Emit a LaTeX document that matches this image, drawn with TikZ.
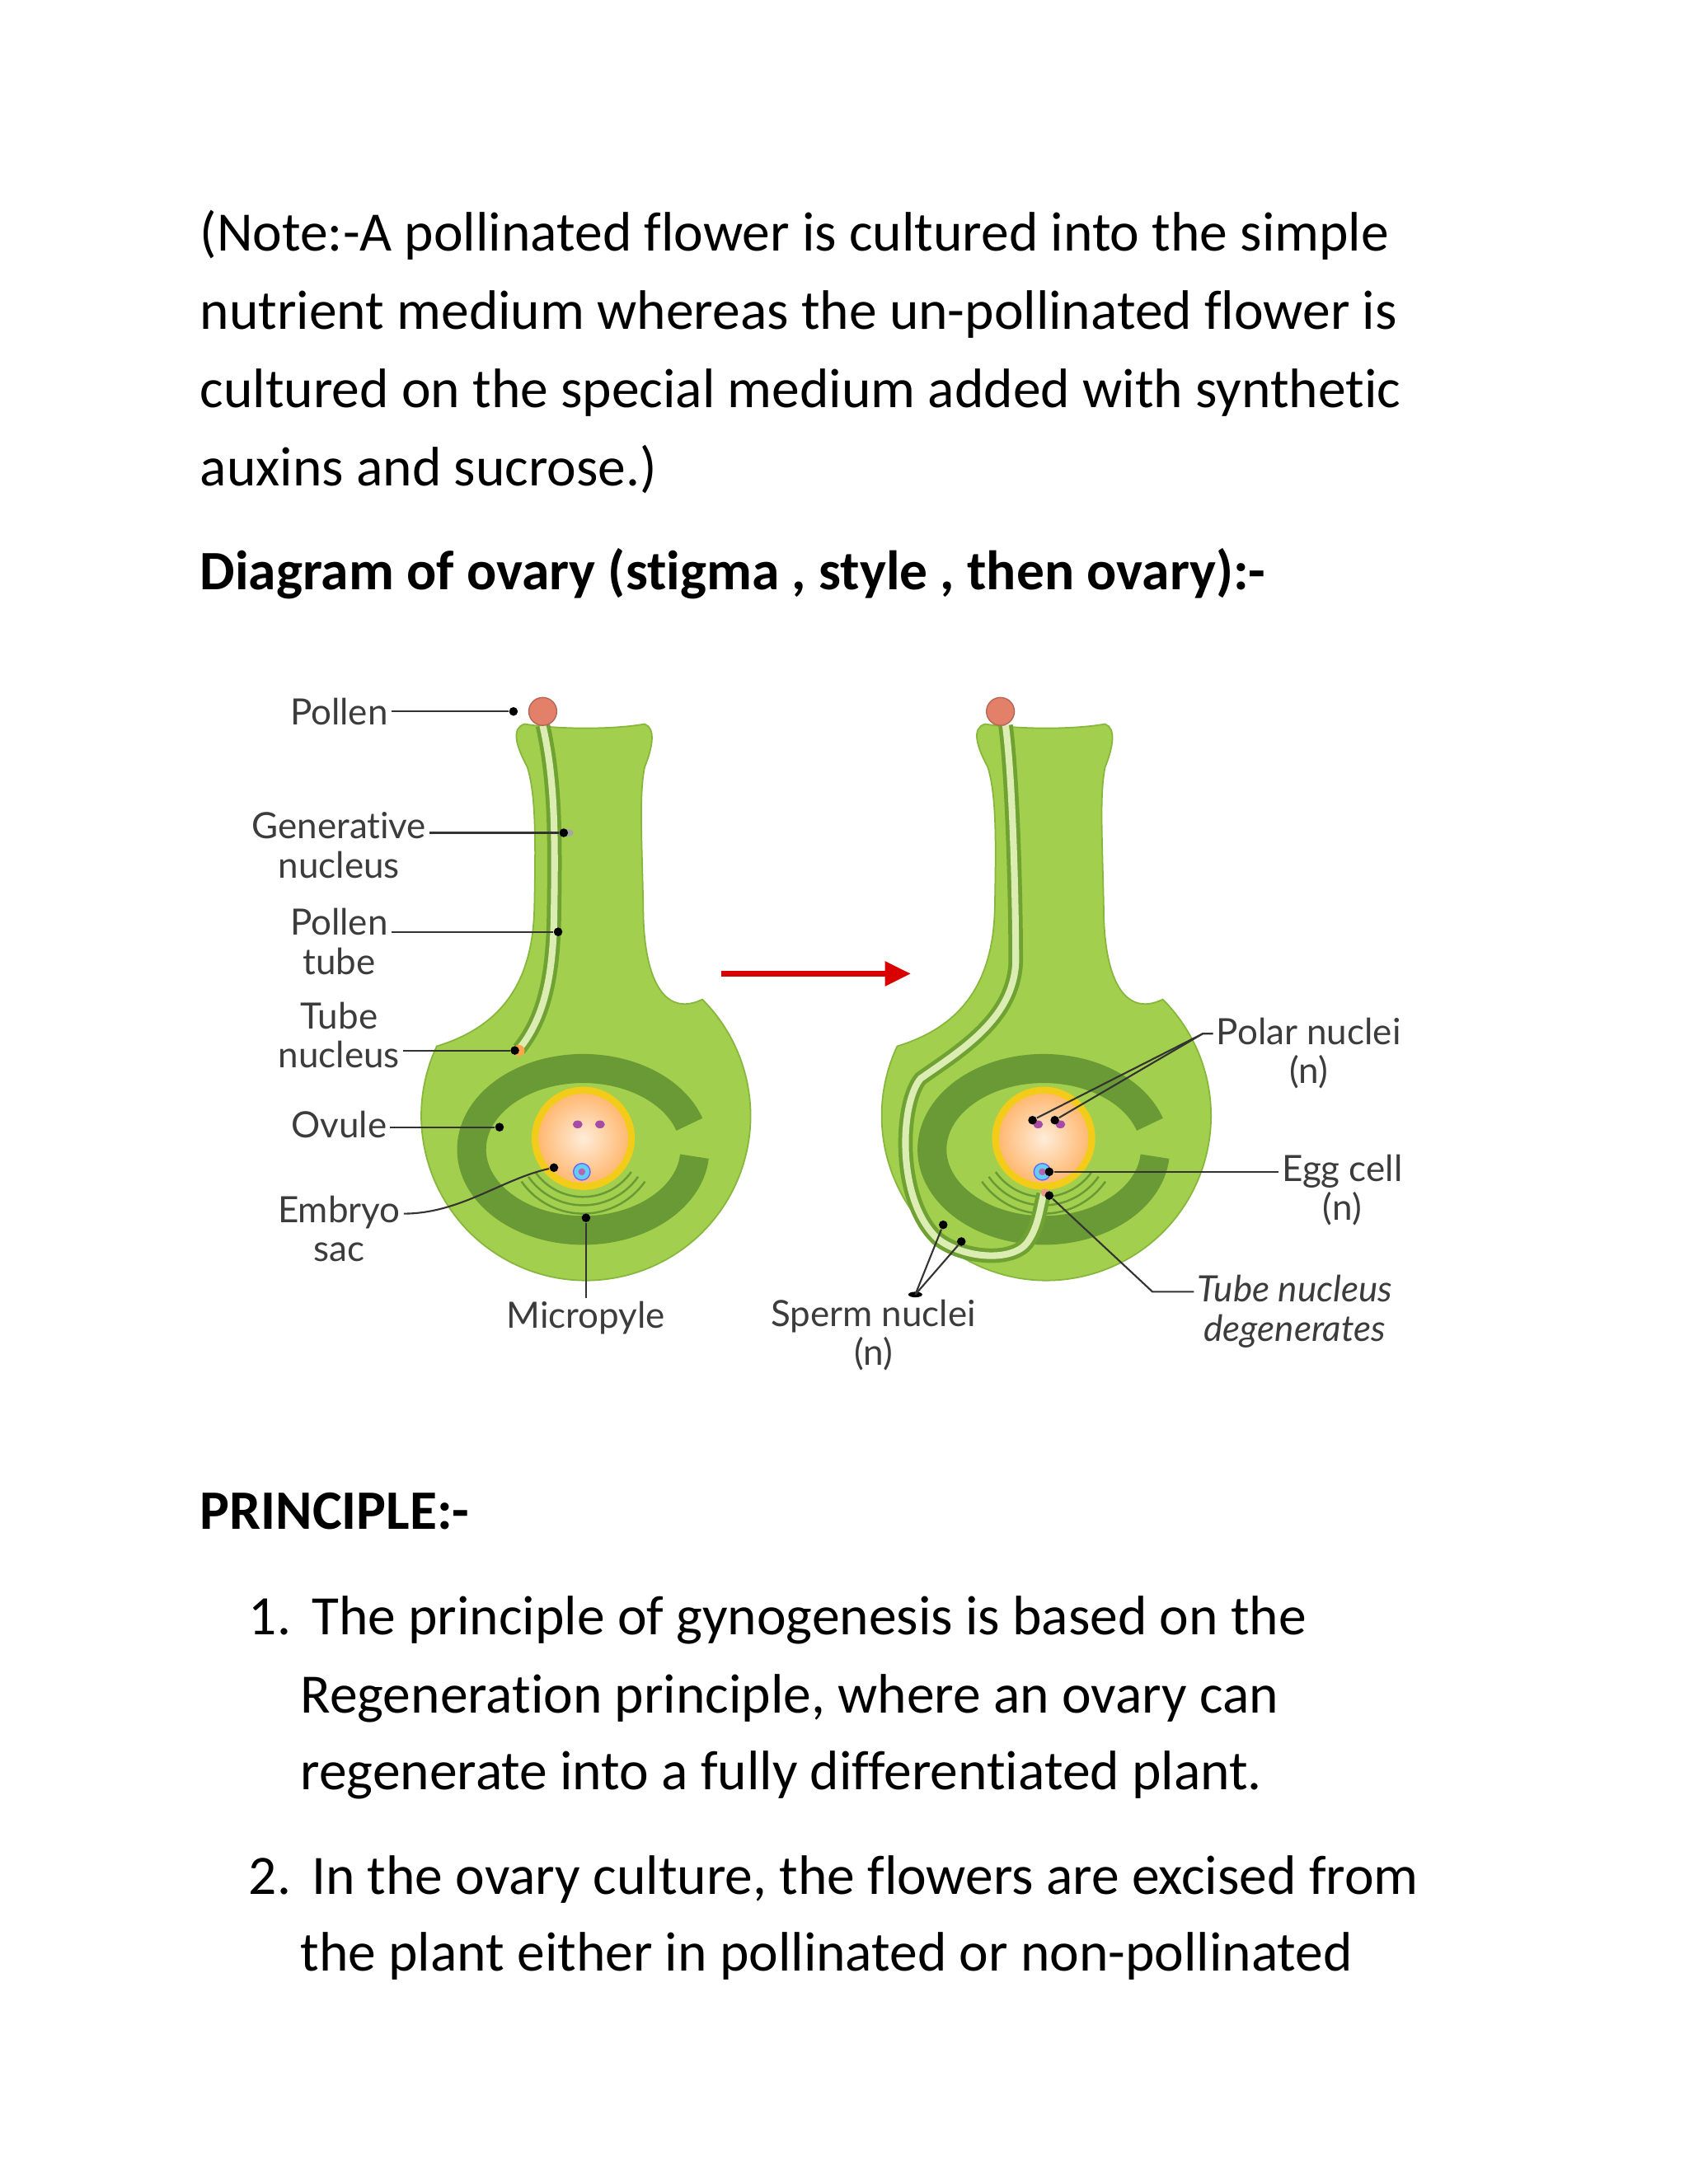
\documentclass[tikz,border=0pt]{standalone}
\usepackage{fontspec}
\setmainfont{Carlito}[Ligatures=NoCommon]
\newfontfamily\lab{Lato}[Ligatures=NoCommon]
\usetikzlibrary{arrows.meta}
\definecolor{ovg}{HTML}{A3CF4E}
\definecolor{ovline}{HTML}{86B63C}
\definecolor{dkg}{HTML}{6A9A35}
\definecolor{tubeout}{HTML}{6FA232}
\definecolor{tubein}{HTML}{DCEDB4}
\definecolor{sacy}{HTML}{F2CC18}
\definecolor{pol}{HTML}{E2806A}
\definecolor{txtg}{HTML}{3C3C3C}
\tikzset{
  body/.style={font=\fontsize{19.2}{22}\selectfont, anchor=base west, inner sep=0},
  bodyb/.style={body, font=\fontsize{19.2}{22}\selectfont\bfseries},
  lbl/.style={font=\lab\fontsize{12.5}{13.5}\selectfont, text=txtg, align=center, inner sep=1pt},
  lline/.style={draw=black!80, line width=0.6pt},
  ldot/.style={fill=black, circle, inner sep=0, minimum size=3pt},
}
\newcommand{\ovary}{%
  \path[fill=ovg, draw=ovline, line width=0.5pt] (376,519) .. controls (366,522) and (370,535) .. (378,550)
     .. controls (384,570) and (384,600) .. (383,650) .. controls (382,712) and (352,738) .. (313,750)
     arc[start angle=205,end angle=-45,radius=118]
     .. controls (475,730) and (461,700) .. (461,650) .. controls (460,600) and (458,570) .. (462,550)
     .. controls (468,535) and (470,522) .. (462,519) .. controls (440,523) and (400,523) .. cycle;
  \draw[dkg, line width=10] (497.7,829) arc[start angle=5,end angle=342,x radius=80,y radius=58];
  \foreach \r in {42,48,54} \draw[dkg, line width=0.7pt] (418,816) ++(35:\r) arc[start angle=35,end angle=145,radius=\r];
  \fill[sacy] (418,816) circle (37);
  \shade[inner color=orange!15, outer color=orange!55] (418,816) circle (32);
  \fill[violet!70] (414,806) ellipse (3.5 and 2.8);
  \fill[violet!70] (430,806) ellipse (3.5 and 2.8);
  \fill[cyan!60, draw=blue!60] (417,840) circle (6);
  \fill[violet!60] (417,840) circle (2.5);
}
\begin{document}
\begin{tikzpicture}[x=0.016926cm,y=-0.016926cm]
\fill[white] (0,0) rectangle (1210,1565.6);
\useasboundingbox (0,0) rectangle (1210,1565.6);
% text
\node[body] (t1) at (143,180) {(Note:-A pollinated flower is cultured into the simple};
\node[body] (t2) at (143,236) {nutrient medium whereas the un-pollinated flower is};
\node[body] (t3) at (143,292) {cultured on the special medium added with synthetic};
\node[body] (t4) at (143,348) {auxins and sucrose.)};
\node[bodyb] (h1) at (143,423) {Diagram of ovary (stigma , style , then ovary):-};
\node[bodyb] (h2) at (143,1096) {PRINCIPLE:-};
\node[body] (n1) at (178,1172) {1.};
\node[body] (p1) at (223,1172) {The principle of gynogenesis is based on the};
\node[body] (p2) at (215,1228) {Regeneration principle, where an ovary can};
\node[body] (p3) at (215,1283) {regenerate into a fully differentiated plant.};
\node[body] (n2) at (178,1358) {2.};
\node[body] (p4) at (223,1358) {In the ovary culture, the flowers are excised from};
\node[body] (p5) at (215,1413) {the plant either in pollinated or non-pollinated};
% left diagram
\ovary
\draw[tubeout, line width=5] (389,520) .. controls (398,560) and (398,600) .. (397,660) .. controls (396,700) and (390,730) .. (372,752);
\draw[tubein, line width=2.3] (389,520) .. controls (398,560) and (398,600) .. (397,660) .. controls (396,700) and (390,730) .. (372,752);
\fill[pol, draw=pol!80!black] (389,510) circle (10);
\fill[gray!70] (407,597) ellipse (4 and 2.5);
\fill[orange!70] (372,753) circle (4);
\node[lbl] (lpol) at (243,510) {Pollen};
\node[ldot] (dpol) at (368,510) {};
\draw[lline] (lpol) -- (dpol);
\node[lbl] (lgen) at (243,606) {Generative\\nucleus};
\node[ldot] (dgen) at (404,597) {};
\draw[lline] (lgen.east|-dgen) -- (dgen);
\node[lbl] (lpt) at (243,675) {Pollen\\tube};
\node[ldot] (dpt) at (400,668) {};
\draw[lline] (lpt.east|-dpt) -- (dpt);
\node[lbl] (ltn) at (243,742) {Tube\\nucleus};
\node[ldot] (dtn) at (369,753) {};
\draw[lline] (ltn.east|-dtn) -- (dtn);
\node[lbl] (lov) at (243,806) {Ovule};
\node[ldot] (dov) at (358,808) {};
\draw[lline] (lov.east|-dov) -- (dov);
\node[lbl] (lemb) at (243,881) {Embryo\\sac};
\node[ldot] (demb) at (397,837) {};
\draw[lline] (lemb.east|-0,870) .. controls (330,870) and (360,845) .. (demb);
\node[lbl] (lmic) at (420,945) {Micropyle};
\node[ldot] (dmic) at (420,873) {};
\draw[lline] (lmic) -- (dmic);
% arrow
\coordinate (a1) at (517,698);
\coordinate (a2) at (653,698);
\draw[red!85!black, line width=2.2pt, -{Triangle[length=9pt,width=8pt]}] (a1) -- (a2);
% right diagram
\begin{scope}[xshift=330*0.016926cm]
\ovary
\draw[tubeout, line width=5] (390.7,520) .. controls (396,560) and (398,650) .. (398,690) .. controls (396,730) and (360,752) .. (330,773) .. controls (315,790) and (312,860) .. (342,888) .. controls (360,902) and (395,905) .. (406,891) .. controls (414,880) and (415,868) .. (418,856);
\draw[tubein, line width=2.3] (390.7,520) .. controls (396,560) and (398,650) .. (398,690) .. controls (396,730) and (360,752) .. (330,773) .. controls (315,790) and (312,860) .. (342,888) .. controls (360,902) and (395,905) .. (406,891) .. controls (414,880) and (415,868) .. (418,856);
\fill[pol!80] (419,855) circle (3);
\fill[pol, draw=pol!80!black] (387,510) circle (10);
\fill[gray!70] (346,878) ellipse (3 and 2);
\fill[gray!70] (359,890) ellipse (3 and 2);
\end{scope}
\node[lbl] (lsp) at (626,957) {Sperm nuclei\\(n)};
\coordinate (csp) at (656,928);
\node[ldot] (dsp1) at (676,878) {};
\node[ldot] (dsp2) at (689,890) {};
\fill[black] (csp) ellipse (5 and 2);
\draw[lline] (csp) -- (dsp1);
\draw[lline] (csp) -- (dsp2);
\node[lbl] (lpn) at (938,755) {Polar nuclei\\(n)};
\coordinate (cpn) at (862,741);
\node[ldot] (dpn1) at (740,803) {};
\node[ldot] (dpn2) at (756,803) {};
\draw[lline] (lpn.west|-cpn) -- (cpn) -- (dpn1);
\draw[lline] (cpn) -- (dpn2);
\node[lbl] (legg) at (962,853) {Egg cell\\(n)};
\node[ldot] (degg) at (752,840) {};
\draw[lline] (legg.west|-degg) -- (degg);
\node[lbl, font=\lab\itshape\fontsize{12.5}{13.5}\selectfont] (ltub) at (928,940) {Tube nucleus\\degenerates};
\node[ldot] (dtub) at (752,857) {};
\coordinate (ctub) at (826,926);
\draw[lline] (ltub.west|-ctub) -- (ctub) -- (dtub);
\end{tikzpicture}
\end{document}
